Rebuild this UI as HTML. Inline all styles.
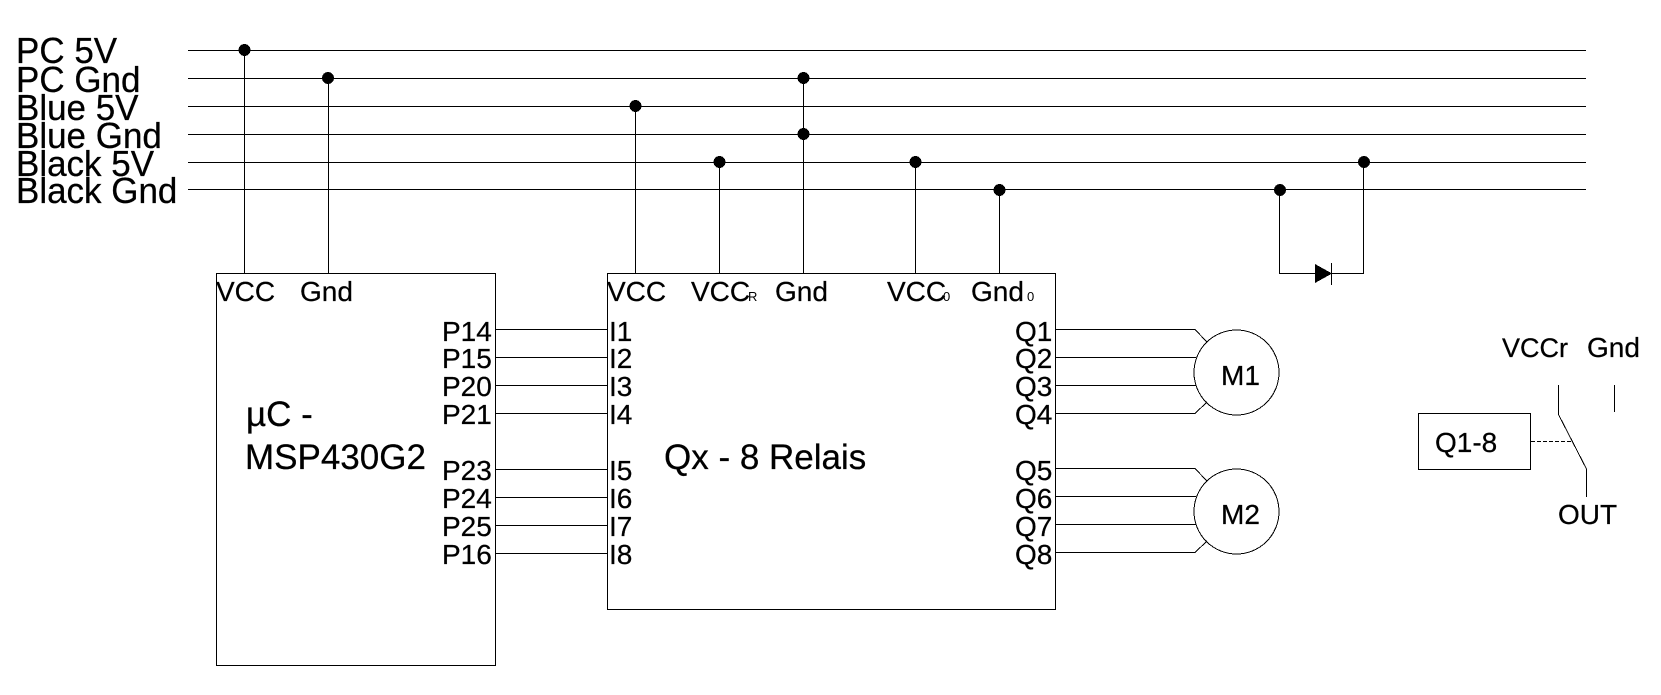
<!DOCTYPE html>
<html><head><meta charset="utf-8"><style>
html,body{margin:0;padding:0;background:#fff}
svg{display:block}
text{font-family:"Liberation Sans",sans-serif;fill:#000;stroke:#000;stroke-width:.25}
.b{font-size:35px}
.p{font-size:28px}
.m{font-size:27px}
.s{font-size:13px;stroke-width:0}
</style></head><body>
<svg width="1661" height="695" viewBox="0 0 1661 695" xmlns="http://www.w3.org/2000/svg">
<g fill="none" stroke="#000" stroke-width="1" shape-rendering="crispEdges">
<path d="M188 50.5H1586M188 78.5H1586M188 106.5H1586M188 134.5H1586M188 162.5H1586M188 189.5H1586"/>
<path d="M244.5 50V273M328.5 78V273M635.5 106V273M719.5 162V273M803.5 78V273M915.5 162V273M999.5 190V273"/>
<rect x="216.5" y="273.5" width="279" height="392"/>
<rect x="607.5" y="273.5" width="448" height="336"/>
<path d="M496 329.5H607M496 357.5H607M496 385.5H607M496 413.5H607M496 469.5H607M496 497.5H607M496 525.5H607M496 553.5H607"/>
<path d="M1056 329.5H1195L1207 342M1056 357.5H1196M1056 385.5H1196M1056 413.5H1195L1207 402"/>
<path d="M1056 468.5H1195L1207 481M1056 496.5H1196M1056 524.5H1196M1056 552.5H1195L1207 541"/>
<circle cx="1236.5" cy="372.5" r="42.5"/>
<circle cx="1236.5" cy="511.5" r="42.5"/>
<path d="M1279.5 190V273.5H1363.5V162"/>
<path d="M1331.5 263V285"/>
<rect x="1418.5" y="413.5" width="112" height="56"/>
<path d="M1531 441.5H1571" stroke-dasharray="4 2"/>
<path d="M1558.5 385V414.5L1586.5 469V497M1614.5 385V412"/>
</g>
<g fill="#000" shape-rendering="crispEdges">
<circle cx="244.5" cy="50" r="6"/><circle cx="328" cy="78" r="6"/>
<circle cx="635.5" cy="106" r="6"/><circle cx="803.5" cy="78" r="6"/>
<circle cx="803.5" cy="134" r="6"/><circle cx="719.5" cy="162" r="6"/>
<circle cx="915.5" cy="162" r="6"/><circle cx="999.5" cy="190" r="6"/>
<circle cx="1280" cy="190" r="6"/><circle cx="1364" cy="162" r="6"/>
<path d="M1315 264L1332 273.5L1315 283Z"/>
</g>
<g>
<text class="b" transform="translate(16,63) scale(1,1.04)">PC 5V</text>
<text class="b" transform="translate(16,92) scale(1,1.04)">PC Gnd</text>
<text class="b" transform="translate(16,120) scale(1,1.04)">Blue 5V</text>
<text class="b" transform="translate(16,148) scale(1,1.04)">Blue Gnd</text>
<text class="b" transform="translate(16,176) scale(1,1.04)">Black 5V</text>
<text class="b" transform="translate(16,203) scale(1,1.04)">Black Gnd</text>
<text class="b" x="246" y="426">µC -</text>
<text class="b" x="245" y="469">MSP430G2</text>
<text class="b" x="664" y="469">Qx - 8 Relais</text>
</g>
<g>
<text class="p" x="216" y="301">VCC</text>
<text class="p" x="300" y="301">Gnd</text>
<text class="p" x="607" y="301">VCC</text>
<text class="p" x="691" y="301">VCC</text>
<text class="s" x="748" y="301">R</text>
<text class="p" x="775" y="301">Gnd</text>
<text class="p" x="887" y="301">VCC</text>
<text class="s" x="943" y="301">0</text>
<text class="p" x="971" y="301">Gnd</text>
<text class="s" x="1027" y="301">0</text>
<text class="p" x="442" y="341">P14</text>
<text class="p" x="442" y="368">P15</text>
<text class="p" x="442" y="396">P20</text>
<text class="p" x="442" y="424">P21</text>
<text class="p" x="442" y="480">P23</text>
<text class="p" x="442" y="508">P24</text>
<text class="p" x="442" y="536">P25</text>
<text class="p" x="442" y="564">P16</text>
<text class="p" x="609" y="341">I1</text>
<text class="p" x="609" y="368">I2</text>
<text class="p" x="609" y="396">I3</text>
<text class="p" x="609" y="424">I4</text>
<text class="p" x="609" y="480">I5</text>
<text class="p" x="609" y="508">I6</text>
<text class="p" x="609" y="536">I7</text>
<text class="p" x="609" y="564">I8</text>
<text class="p" x="1015" y="341">Q1</text>
<text class="p" x="1015" y="368">Q2</text>
<text class="p" x="1015" y="396">Q3</text>
<text class="p" x="1015" y="424">Q4</text>
<text class="p" x="1015" y="480">Q5</text>
<text class="p" x="1015" y="508">Q6</text>
<text class="p" x="1015" y="536">Q7</text>
<text class="p" x="1015" y="564">Q8</text>
<text class="p" x="1221" y="385">M1</text>
<text class="p" x="1221" y="524">M2</text>
<text class="p" x="1435" y="452">Q1-8</text>
<text class="m" x="1502" y="357">VCCr</text>
<text class="p" x="1587" y="357">Gnd</text>
<text class="p" x="1558" y="524">OUT</text>
</g>
</svg>
</body></html>
